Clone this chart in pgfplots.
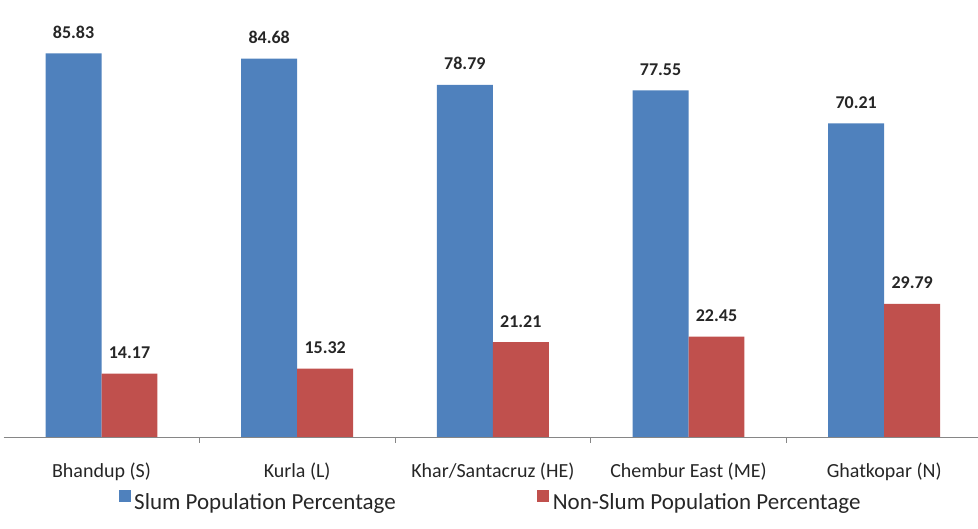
\documentclass[border=0pt]{standalone}
\usepackage{pgfplots}
\pgfplotsset{compat=1.18}
\usepackage{fontspec}
\setmainfont{Carlito}
\newfontfamily\srcfont{Liberation Serif}
\definecolor{slum}{HTML}{4F81BD}
\definecolor{nonslum}{HTML}{C0504D}
\definecolor{axisgray}{HTML}{868686}
\begin{document}
\begin{tikzpicture}[x=1pt,y=1pt]
\useasboundingbox (0,0) rectangle (978,529);
\clip (0,0) rectangle (978,529);
\begin{axis}[
  at={(3.7pt,92pt)}, anchor=south west,
  scale only axis, width=978.3pt, height=437pt,
  xmin=-0.5, xmax=4.5, ymin=0, ymax=97.8,
  axis y line=none, axis x line*=bottom,
  x axis line style={axisgray, line width=0.8pt},
  xtick={0,1,2,3,4},
  xticklabels={Bhandup (S),Kurla (L),Khar/Santacruz (HE),Chembur East (ME),Ghatkopar (N)},
  major tick length=0pt,
  minor xtick={0.5,1.5,2.5,3.5}, minor tick length=6pt, tick align=outside,
  minor x tick style={axisgray, line width=0.8pt},
  xticklabel style={font=\fontsize{20}{24}\selectfont, text=black!85, anchor=base, yshift=-41pt},
  ybar, bar width=0.286,
  nodes near coords,
  every node near coord/.append style={font=\bfseries\fontsize{18}{20}\selectfont, text=black!85, anchor=base, yshift=15pt, inner sep=0pt},
  /pgf/number format/fixed, /pgf/number format/precision=2,
  /pgf/number format/fixed zerofill, /pgf/number format/assume math mode=true,
  legend columns=2,
  legend image code/.code={\fill[#1] (0pt,0pt) rectangle (12pt,12pt);},
  legend style={at={(0.4985,-0.1476)}, anchor=center, draw=none, fill=none,
    font=\fontsize{23}{27}\selectfont, text=black!85,
    nodes={inner xsep=3.5pt},
    /tikz/every even column/.append style={column sep=138pt}},
]
\addplot[fill=slum, draw=none, bar shift=-0.143]
  coordinates {(0,85.83) (1,84.68) (2,78.79) (3,77.55) (4,70.21)};
\addplot[fill=nonslum, draw=none, bar shift=0.143]
  coordinates {(0,14.17) (1,15.32) (2,21.21) (3,22.45) (4,29.79)};
\legend{Slum Population Percentage, Non-Slum Population Percentage}
\end{axis}
\node[anchor=base west, inner sep=0pt, font=\srcfont\fontsize{38}{40}\selectfont] at (8,-27) {Source:};
\node[anchor=base west, inner sep=0pt, font=\srcfont\fontsize{38}{40}\selectfont] at (157,-27) {Census};
\node[anchor=base west, inner sep=0pt, font=\srcfont\fontsize{38}{40}\selectfont] at (283,-27) {2001};
\end{tikzpicture}
\end{document}
